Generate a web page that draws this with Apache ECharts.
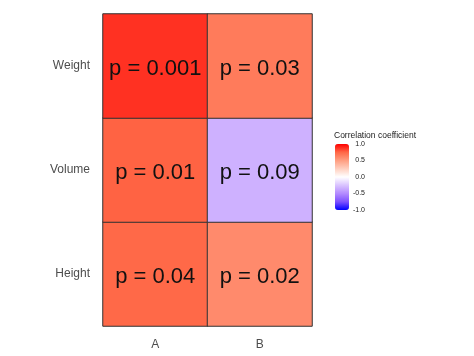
<!DOCTYPE html>
<html>
<head>
<meta charset="utf-8">
<script src="https://cdn.jsdelivr.net/npm/echarts@6/dist/echarts.min.js"></script>
<style>html,body{margin:0;padding:0;background:#fff}#c{width:474px;height:356px}</style>
</head>
<body>
<div id="c"></div>
<script>
var xCategories = ['A', 'B'];
var yCategories = ['Height', 'Volume', 'Weight'];
// correlation coefficients, rows follow yCategories, columns follow xCategories
var corrA = [0.74, 0.76, 0.88];
var corrB = [0.59, -0.33, 0.66];
var pA = ['0.04', '0.01', '0.001'];
var pB = ['0.02', '0.09', '0.03'];

var data = [];
for (var i = 0; i < yCategories.length; i++) {
  data.push({value: [0, i, corrA[i]], p: pA[i]});
  data.push({value: [1, i, corrB[i]], p: pB[i]});
}

var FONT = 'Liberation Sans, Arial, sans-serif';
var chart = echarts.init(document.getElementById('c'), null, {renderer: 'canvas'});
chart.setOption({
  backgroundColor: '#ffffff',
  animation: false,
  title: {
    text: 'Correlation coefficient',
    left: 334, top: 131, padding: 0,
    textStyle: {fontSize: 8.5, fontWeight: 'normal', color: '#1a1a1a', fontFamily: FONT}
  },
  grid: [
    {left: 103, right: 162, top: 14, bottom: 30},
    {left: 335, top: 144, width: 14, height: 66}
  ],
  xAxis: [
    {type: 'category', data: xCategories, gridIndex: 0,
     axisLine: {show: false}, axisTick: {show: false}, splitLine: {show: false},
     axisLabel: {color: '#4d4d4d', fontSize: 12, margin: 13, fontFamily: FONT}},
    {type: 'value', gridIndex: 1, show: false, min: 0, max: 1}
  ],
  yAxis: [
    {type: 'category', data: yCategories, gridIndex: 0,
     axisLine: {show: false}, axisTick: {show: false}, splitLine: {show: false},
     axisLabel: {color: '#4d4d4d', fontSize: 12, margin: 13, padding: [4, 0, 0, 0], fontFamily: FONT}},
    {type: 'value', gridIndex: 1, min: -1, max: 1, interval: 0.5, position: 'right',
     axisLine: {show: false}, splitLine: {show: false},
     axisTick: {show: true, inside: true, length: 3, lineStyle: {color: '#ffffff', width: 1}},
     axisLabel: {color: '#1a1a1a', fontSize: 7, margin: 16, align: 'right', fontFamily: FONT,
       formatter: function (v) { return v.toFixed(1); }}}
  ],
  visualMap: {
    type: 'continuous', min: -1, max: 1, dimension: 2, seriesIndex: 0,
    calculable: false, left: 330, top: 139, itemWidth: 14, itemHeight: 66,
    padding: 5, text: null, showLabel: false,
    inRange: {color: ['#0000FF', '#7E51FF', '#B38BFF', '#DAC3FF', '#FFFFFF', '#FFCFBF', '#FF9E81', '#FF6746', '#FF0000']}
  },
  series: [{
    type: 'heatmap',
    xAxisIndex: 0, yAxisIndex: 0,
    data: data,
    itemStyle: {borderColor: '#333333', borderWidth: 1},
    label: {show: true, fontSize: 22, color: '#111111', fontFamily: FONT, offset: [0, 3],
      formatter: function (p) { return 'p = ' + p.data.p; }},
    emphasis: {disabled: true}
  }]
});
</script>
</body>
</html>
